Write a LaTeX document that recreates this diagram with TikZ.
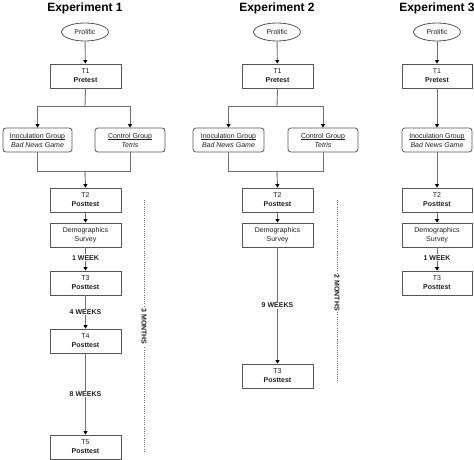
\documentclass[tikz,border=0pt]{standalone}
\usepackage{fontspec}
\setmainfont{Liberation Sans}
\usetikzlibrary{shapes.geometric,arrows.meta}
\definecolor{boxgray}{HTML}{555555}
\definecolor{linegray}{HTML}{6E6E6E}
\definecolor{txt}{HTML}{1E1E1E}
\newcommand{\fs}{\fontsize{7}{9}\selectfont}
\newcommand{\ulx}[1]{\setbox0\hbox{#1}\rlap{\rule[-1.4pt]{\wd0}{0.45pt}}\box0}
\tikzset{
  box/.style={draw=boxgray, line width=0.8pt, fill=white, minimum width=71pt, minimum height=24pt, inner sep=0pt, align=center, font=\fs, text=txt},
  rbox/.style={box, rounded corners=3pt},
  oval/.style={ellipse, draw=boxgray, line width=0.8pt, fill=white, minimum width=47pt, minimum height=18pt, inner sep=0pt, font=\fs, text=txt},
  conn/.style={draw=linegray, line width=0.9pt},
  arr/.style={conn, -{Triangle[width=4pt,length=3.5pt,color=black]}},
  lbl/.style={fill=white, inner sep=1pt, font=\fs\bfseries, text=txt},
  dots/.style={draw=linegray, line width=0.9pt, dash pattern=on 0.9pt off 1.3pt},
  title/.style={font=\fontsize{12}{14}\selectfont\bfseries, text=black, inner sep=0pt}
}
\begin{document}
\begin{tikzpicture}[x=1pt,y=-1pt]
\useasboundingbox (0,0) rectangle (474,460);
\clip (0,0) rectangle (474,460);
\fill[white] (0,0) rectangle (474,460);
% ---------------- Experiment 1
\node[title] (h1) at (85,8) {Experiment 1};
\node[oval] (pro1) at (85,32) {Prolific};
\node[box] (t1a) at (85.5,76) {T1\\\textbf{Pretest}};
\node[rbox, minimum width=69pt] (inoc1) at (37.5,140) {\ulx{Inoculation Group}\\\textit{Bad News Game}};
\node[rbox, minimum width=70pt] (ctrl1) at (130,140) {\ulx{Control Group}\\\textit{Tetris}};
\node[box] (t2a) at (85.5,200) {T2\\\textbf{Posttest}};
\node[box] (dem1) at (85.5,235) {Demographics\\Survey};
\node[box] (t3a) at (85.5,283) {T3\\\textbf{Posttest}};
\node[box] (t4a) at (85.5,341) {T4\\\textbf{Posttest}};
\node[box] (t5a) at (85.5,447) {T5\\\textbf{Posttest}};
\coordinate (s1) at (85,106);
\coordinate (j1) at (85,171);
\draw[arr] (pro1) -- (t1a);
\draw[conn] (t1a.south) -- (s1);
\draw[arr] (s1) -| (inoc1.north);
\draw[arr] (s1) -| (ctrl1.north);
\draw[conn] (inoc1.south) |- (j1);
\draw[conn] (ctrl1.south) |- (j1);
\draw[arr] (j1) -- (t2a.north);
\draw[arr] (t2a) -- (dem1);
\draw[arr] (dem1) -- node[lbl, pos=0.45] (w1a) {1 WEEK} (t3a);
\draw[arr] (t3a) -- node[lbl, pos=0.5] (w4a) {4 WEEKS} (t4a);
\draw[arr] (t4a) -- node[lbl, pos=0.5] (w8a) {8 WEEKS} (t5a);
\coordinate (d1a) at (144,200);
\coordinate (d1b) at (144,453);
\draw[dots] (d1a) -- node[lbl, rotate=-90, pos=0.5] (m3) {3 MONTHS} (d1b);
% ---------------- Experiment 2
\node[title] (h2) at (277,8) {Experiment 2};
\node[oval] (pro2) at (277,32) {Prolific};
\node[box] (t1b) at (277.5,76) {T1\\\textbf{Pretest}};
\node[rbox, minimum width=71pt] (inoc2) at (228.5,140) {\ulx{Inoculation Group}\\\textit{Bad News Game}};
\node[rbox, minimum width=70pt] (ctrl2) at (323,140) {\ulx{Control Group}\\\textit{Tetris}};
\node[box] (t2b) at (277.5,200) {T2\\\textbf{Posttest}};
\node[box] (dem2) at (277.5,235) {Demographics\\Survey};
\node[box] (t3b) at (277.5,376) {T3\\\textbf{Posttest}};
\coordinate (s2) at (277,106);
\coordinate (j2) at (277,171);
\draw[arr] (pro2) -- (t1b);
\draw[conn] (t1b.south) -- (s2);
\draw[arr] (s2) -| (inoc2.north);
\draw[arr] (s2) -| (ctrl2.north);
\draw[conn] (inoc2.south) |- (j2);
\draw[conn] (ctrl2.south) |- (j2);
\draw[arr] (j2) -- (t2b.north);
\draw[arr] (t2b) -- (dem2);
\draw[arr] (dem2) -- node[lbl, pos=0.5] (w9b) {9 WEEKS} (t3b);
\coordinate (d2a) at (337,200);
\coordinate (d2b) at (337,382);
\draw[dots] (d2a) -- node[lbl, rotate=-90, pos=0.51] (m2) {2 MONTHS} (d2b);
% ---------------- Experiment 3
\node[title] (h3) at (437,8) {Experiment 3};
\node[oval] (pro3) at (437,32) {Prolific};
\node[box, minimum width=70pt] (t1c) at (437,76) {T1\\\textbf{Pretest}};
\node[rbox, minimum width=70pt] (inoc3) at (437,140) {\ulx{Inoculation Group}\\\textit{Bad News Game}};
\node[box, minimum width=70pt] (t2c) at (437,200) {T2\\\textbf{Posttest}};
\node[box, minimum width=70pt] (dem3) at (437,235) {Demographics\\Survey};
\node[box, minimum width=70pt] (t3c) at (437,283) {T3\\\textbf{Posttest}};
\draw[arr] (pro3) -- (t1c);
\draw[arr] (t1c) -- (inoc3);
\draw[arr] (inoc3) -- (t2c);
\draw[arr] (t2c) -- (dem3);
\draw[arr] (dem3) -- node[lbl, pos=0.45] (w1c) {1 WEEK} (t3c);
\end{tikzpicture}
\end{document}
